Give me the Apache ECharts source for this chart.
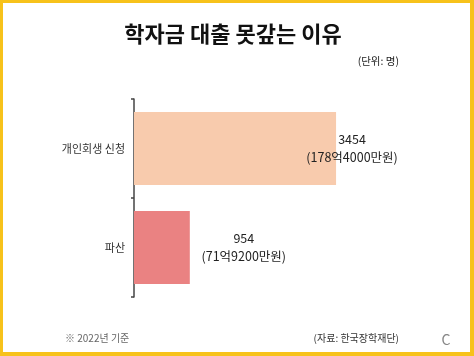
<!DOCTYPE html>
<html><head><meta charset="utf-8">
<script src="https://cdn.jsdelivr.net/npm/echarts@6/dist/echarts.min.js"></script>
<style>html,body{margin:0;padding:0;background:#fff}#c{width:474px;height:356px}</style>
</head><body><div id="c"></div>
<script>
const categories = ['개인회생 신청', '파산'];
const values = [3454, 954];
const amounts = ['178억4000만원', '71억9200만원'];
const barColors = ['#F8CBAD', '#EA8282'];
const labelOffsets = [16, 54];

const FONT = '"Noto Sans CJK KR", "Noto Sans", sans-serif';
const chart = echarts.init(document.getElementById('c'), null, {renderer: 'canvas'});
chart.setOption({
  backgroundColor: '#F7C21B',
  animation: false,
  graphic: [
    {type: 'rect', z: -10, shape: {x: 3, y: 3, width: 467, height: 349}, style: {fill: '#ffffff'}},
    {type: 'text', x: 233, y: 34, style: {text: '학자금 대출 못갚는 이유', font: 'bold 22px ' + FONT, fill: '#111', textAlign: 'center', textVerticalAlign: 'middle'}},
    {type: 'text', x: 399, y: 61, style: {text: '(단위: 명)', font: '10.5px ' + FONT, fill: '#222', textAlign: 'right', textVerticalAlign: 'middle'}},
    {type: 'text', x: 65, y: 338, style: {text: '※ 2022년 기준', font: '10px ' + FONT, fill: '#666', textVerticalAlign: 'middle'}},
    {type: 'text', x: 399, y: 338, style: {text: '(자료: 한국장학재단)', font: '10px ' + FONT, fill: '#333', textAlign: 'right', textVerticalAlign: 'middle'}},
    {type: 'text', x: 446, y: 340, style: {text: 'C', font: '14px ' + FONT, fill: '#888', textAlign: 'center', textVerticalAlign: 'middle'}}
  ],
  grid: {left: 134, top: 99, height: 198, width: 234},
  xAxis: {type: 'value', min: 0, max: 4000, show: false},
  yAxis: {
    type: 'category', data: categories, inverse: true,
    axisLine: {lineStyle: {color: '#444', width: 1.5}},
    axisTick: {show: true, length: 3, lineStyle: {color: '#444', width: 1.5}},
    axisLabel: {color: '#333', fontSize: 11, fontFamily: FONT, margin: 9}
  },
  series: [{
    type: 'bar', barWidth: 73,
    data: values.map((v, i) => ({
      value: v,
      itemStyle: {color: barColors[i]},
      label: {
        show: true, position: 'right', distance: 0, align: 'center',
        offset: [labelOffsets[i], 0],
        formatter: v + '\n(' + amounts[i] + ')',
        color: '#222', fontSize: 12.5, lineHeight: 18, fontFamily: FONT
      }
    }))
  }]
});
</script></body></html>
